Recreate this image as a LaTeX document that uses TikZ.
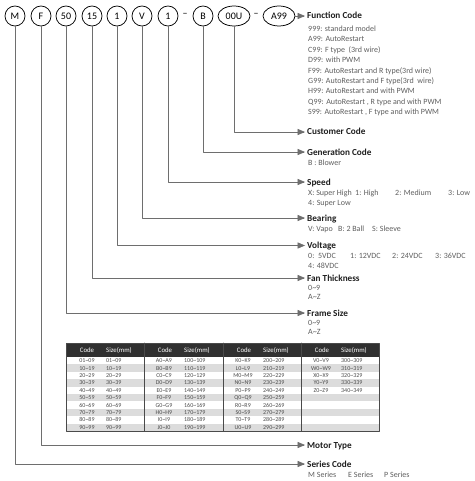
\documentclass[tikz,border=0pt]{standalone}
\usepackage{fontspec}
\setmainfont{Carlito}
\usetikzlibrary{arrows}
\usetikzlibrary{positioning}
\usetikzlibrary{shapes.geometric}

\definecolor{wiregray}{HTML}{6E6E6E}
\definecolor{descgray}{HTML}{5E5E5E}
\definecolor{headblack}{HTML}{1E1E1E}
\definecolor{rowgray}{HTML}{DCDCDC}
\definecolor{tabhead}{HTML}{303030}
\definecolor{tabline}{HTML}{4A4A4A}

\newcommand{\rg}[2]{#1\textasciitilde#2}

\tikzset{
  codering/.style={draw=black,circle,line width=0.75pt,minimum size=20pt,inner sep=0pt,
    font=\fontsize{10}{10}\selectfont},
  codeoval/.style={draw=black,ellipse,line width=0.75pt,minimum width=32pt,minimum height=20pt,
    inner sep=0pt,font=\fontsize{10}{10}\selectfont},
  head/.style={anchor=west,inner sep=2pt,text height=6pt,text depth=0pt,
    font=\bfseries\fontsize{9.2}{10}\selectfont,text=headblack},
  desc/.style={anchor=west,inner sep=0pt,text height=5pt,text depth=0pt,
    font=\fontsize{8}{8}\selectfont,text=descgray},
  wire/.style={draw=wiregray,line width=0.7pt,->},
  cellcode/.style={inner sep=0pt,text height=4pt,text depth=0pt,font=\fontsize{6}{6}\selectfont,text=black!70},
  cellsize/.style={cellcode,anchor=west},
  cellhead/.style={inner sep=0pt,text height=4.5pt,text depth=0pt,font=\fontsize{6.8}{7}\selectfont,text=white},
}

\begin{document}
\begin{tikzpicture}[line cap=round,line join=round,>=triangle 45,x=1pt,y=-1pt]
\useasboundingbox (0,0) rectangle (474,481);
\node[codering] (cM) at (15,16) {M};
\node[codering] (cF) at (41,16) {F};
\node[codering] (c50) at (66,16) {50};
\node[codering] (c15) at (92,16) {15};
\node[codering] (c1a) at (117,16) {1};
\node[codering] (cV) at (142,16) {V};
\node[codering] (c1b) at (168,16) {1};
\node[font=\fontsize{10}{10}\selectfont] (dash1) at (185,15) {--};
\node[codering] (cB) at (203,16) {B};
\node[codeoval] (c00U) at (234,16) {00U};
\node[font=\fontsize{10}{10}\selectfont] (dash2) at (256,15) {--};
\node[codeoval] (cA99) at (279,16) {A99};

\node[head] (fn) at (305,16) {Function Code};
\node[desc] (fn1) at (308,29) {999: standard model};
\node[desc] (fn2) at (308,39.4) {A99: AutoRestart};
\node[desc] (fn3) at (308,49.8) {C99: F type\ \ (3rd wire)};
\node[desc] (fn4) at (308,60.2) {D99: with PWM};
\node[desc] (fn5) at (308,70.6) {F99: AutoRestart and R type(3rd wire)};
\node[desc] (fn6) at (308,81) {G99: AutoRestart and F type(3rd\ \ wire)};
\node[desc] (fn7) at (308,91.4) {H99: AutoRestart and with PWM};
\node[desc] (fn8) at (308,101.8) {Q99: AutoRestart , R type and with PWM};
\node[desc] (fn9) at (308,112.2) {S99: AutoRestart , F type and with PWM};
\node[head] (cust) at (305,132) {Customer Code};
\node[head] (gen) at (305,152) {Generation Code};
\node[desc] (gen1) at (308,162.5) {B : Blower};
\node[head] (spd) at (305,182) {Speed};
\node[desc] (spd1) at (308,192.5) {X: Super High};
\node[desc] (spd2) at (355,192.5) {1: High};
\node[desc] (spd3) at (395,192.5) {2: Medium};
\node[desc] (spd4) at (448,192.5) {3: Low};
\node[desc] (spd5) at (308,202.5) {4: Super Low};
\node[head] (brg) at (305,218) {Bearing};
\node[desc] (brg1) at (308,229) {V: Vapo};
\node[desc] (brg2) at (338,229) {B: 2 Ball};
\node[desc] (brg3) at (372,229) {S: Sleeve};
\node[head] (vlt) at (305,245.5) {Voltage};
\node[desc] (vlt1) at (308,256) {0:\ \ 5VDC};
\node[desc] (vlt2) at (350,256) {1: 12VDC};
\node[desc] (vlt3) at (392,256) {2: 24VDC};
\node[desc] (vlt4) at (435,256) {3: 36VDC};
\node[desc] (vlt5) at (308,265.5) {4: 48VDC};
\node[head] (thk) at (305,278) {Fan Thickness};
\node[desc] (thk1) at (308,288) {0\textasciitilde9};
\node[desc] (thk2) at (308,297) {A\textasciitilde Z};
\node[head] (frm) at (305,313) {Frame Size};
\node[desc] (frm1) at (308,322.5) {0\textasciitilde9};
\node[desc] (frm2) at (308,331.5) {A\textasciitilde Z};
\node[head] (mtr) at (305,445) {Motor Type};
\node[head] (ser) at (305,464) {Series Code};
\node[desc] (ser1) at (308,475) {M Series};
\node[desc] (ser2) at (348,475) {E Series};
\node[desc] (ser3) at (384,475) {P Series};

\draw[wire] (cA99) -- (fn);
\draw[wire] (c00U) |- (cust);
\draw[wire] (cB) |- (gen);
\draw[wire] (c1b) |- (spd);
\draw[wire] (cV) |- (brg);
\draw[wire] (c1a) |- (vlt);
\draw[wire] (c15) |- (thk);
\draw[wire] (c50) |- (frm);
\draw[wire] (cF) |- (mtr);
\draw[wire] (cM) |- (ser);

\fill[tabhead] (66,343) rectangle (379,357);
\foreach \r in {1,3,5,7,9}
  \fill[rowgray] (66,{357+7.4*\r}) rectangle (379,{357+7.4*(\r+1)});
\foreach \g in {66,144,223,301} {
  \node[cellhead] at (\g+21,350) {Code};
  \node[cellhead,anchor=west] at (\g+40,350) {Size(mm)};
}
\foreach \a/\b/\c/\d [count=\r from 0] in {01/09/01/09,10/19/10/19,20/29/20/29,30/39/30/39,
    40/49/40/49,50/59/50/59,60/69/60/69,70/79/70/79,80/89/80/89,90/99/90/99} {
  \node[cellcode] at (87,{357+7.4*(\r+0.5)}) {\rg{\a}{\b}};
  \node[cellsize] at (106,{357+7.4*(\r+0.5)}) {\rg{\c}{\d}};
}
\foreach \a/\b/\c/\d [count=\r from 0] in {A0/A9/100/109,B0/B9/110/119,C0/C9/120/129,
    D0/D9/130/139,E0/E9/140/149,F0/F9/150/159,G0/G9/160/169,H0/H9/170/179,
    I0/I9/180/189,J0/J0/190/199} {
  \node[cellcode] at (164,{357+7.4*(\r+0.5)}) {\rg{\a}{\b}};
  \node[cellsize] at (184,{357+7.4*(\r+0.5)}) {\rg{\c}{\d}};
}
\foreach \a/\b/\c/\d [count=\r from 0] in {K0/K9/200/209,L0/L9/210/219,M0/M9/220/229,
    N0/N9/230/239,P0/P9/240/249,Q0/Q9/250/259,R0/R9/260/269,S0/S9/270/279,
    T0/T9/280/289,U0/U9/290/299} {
  \node[cellcode] at (243,{357+7.4*(\r+0.5)}) {\rg{\a}{\b}};
  \node[cellsize] at (263,{357+7.4*(\r+0.5)}) {\rg{\c}{\d}};
}
\foreach \a/\b/\c/\d [count=\r from 0] in {V0/V9/300/309,W0/W9/310/319,X0/X9/320/329,
    Y0/Y9/330/339,Z0/Z9/340/349} {
  \node[cellcode] at (321,{357+7.4*(\r+0.5)}) {\rg{\a}{\b}};
  \node[cellsize] at (341,{357+7.4*(\r+0.5)}) {\rg{\c}{\d}};
}
\foreach \g in {144,223,301}
  \draw[tabline,line width=0.8pt] (\g,343) -- (\g,431);
\draw[tabline,line width=0.9pt] (66,343) rectangle (379,431);
\end{tikzpicture}
\end{document}
